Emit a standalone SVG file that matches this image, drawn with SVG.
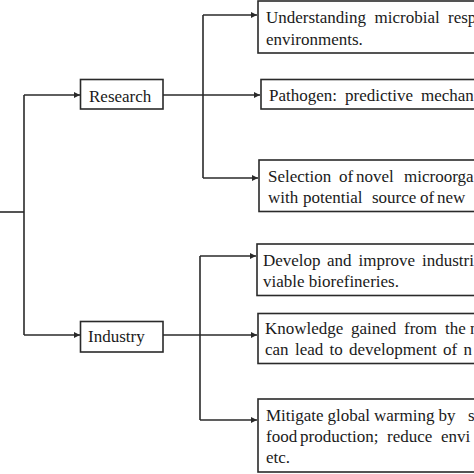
<svg xmlns="http://www.w3.org/2000/svg" width="474" height="474" viewBox="0 0 474 474">
<style>
.box{fill:#fff;stroke:#2a2a2a;stroke-width:1.6}
.ln{fill:none;stroke:#2a2a2a;stroke-width:1.6}
text{font-family:"Liberation Serif","Times New Roman",serif;font-size:17px;fill:#1a1a1a}
</style>
<defs>
<marker id="ah" viewBox="0 0 10 10" refX="10" refY="5" markerWidth="6" markerHeight="6" markerUnits="userSpaceOnUse" orient="auto">
<path d="M0,0 L10,5 L0,10 z" fill="#2a2a2a"/>
</marker>
</defs>
<rect width="474" height="474" fill="#fff"/>
<g id="connectors">
<path class="ln" d="M0,212 H24"/>
<path class="ln" d="M24,95 V335"/>
<path class="ln" d="M24,95 H80" marker-end="url(#ah)"/>
<path class="ln" d="M24,335 H80" marker-end="url(#ah)"/>
<path class="ln" d="M163,95 H260" marker-end="url(#ah)"/>
<path class="ln" d="M203,15 V178"/>
<path class="ln" d="M203,15 H257" marker-end="url(#ah)"/>
<path class="ln" d="M203,178 H258" marker-end="url(#ah)"/>
<path class="ln" d="M163,335 H257" marker-end="url(#ah)"/>
<path class="ln" d="M200,256 V420"/>
<path class="ln" d="M200,256 H256" marker-end="url(#ah)"/>
<path class="ln" d="M200,420 H257" marker-end="url(#ah)"/>
</g>
<g id="research">
<rect class="box" x="80.5" y="79.5" width="82.5" height="29.5"/>
<text x="89" y="102">Research</text>
</g>
<g id="industry">
<rect class="box" x="80.5" y="321.5" width="82.5" height="30.5"/>
<text x="88" y="342">Industry</text>
</g>
<g id="box1">
<rect class="box" x="258" y="1" width="230" height="52"/>
<text y="23"><tspan x="266">Understanding</tspan><tspan x="374.5">microbial</tspan><tspan x="448">resp</tspan></text>
<text x="266" y="45">environments.</text>
</g>
<g id="box2">
<rect class="box" x="261" y="79.5" width="230" height="29.5"/>
<text y="101"><tspan x="269">Pathogen:</tspan><tspan x="345">predictive</tspan><tspan x="421">mechan</tspan></text>
</g>
<g id="box3">
<rect class="box" x="259" y="160" width="230" height="51.5"/>
<text y="182"><tspan x="268">Selection</tspan><tspan x="339">of</tspan><tspan x="356">novel</tspan><tspan x="404">microorga</tspan></text>
<text y="203"><tspan x="268">with</tspan><tspan x="303">potential</tspan><tspan x="372">source</tspan><tspan x="420">of</tspan><tspan x="437">new</tspan></text>
</g>
<g id="box4">
<rect class="box" x="257" y="244" width="230" height="51.5"/>
<text y="266"><tspan x="263">Develop</tspan><tspan x="327">and</tspan><tspan x="358.5">improve</tspan><tspan x="422">industri</tspan></text>
<text x="263" y="287">viable biorefineries.</text>
</g>
<g id="box5">
<rect class="box" x="258" y="313.5" width="230" height="50"/>
<text y="334"><tspan x="265">Knowledge</tspan><tspan x="351">gained</tspan><tspan x="404">from</tspan><tspan x="445">the</tspan><tspan x="470">m</tspan></text>
<text y="355"><tspan x="265">can</tspan><tspan x="295">lead</tspan><tspan x="329.5">to</tspan><tspan x="349">development</tspan><tspan x="443">of</tspan><tspan x="463.5">n</tspan></text>
</g>
<g id="box6">
<rect class="box" x="258" y="399" width="230" height="73"/>
<text y="421"><tspan x="266">Mitigate</tspan><tspan x="327.5">global</tspan><tspan x="374">warming</tspan><tspan x="438.5">by</tspan><tspan x="468">s</tspan></text>
<text y="442"><tspan x="266">food</tspan><tspan x="300">production;</tspan><tspan x="387">reduce</tspan><tspan x="441">envi</tspan></text>
<text x="266" y="463">etc.</text>
</g>
</svg>
